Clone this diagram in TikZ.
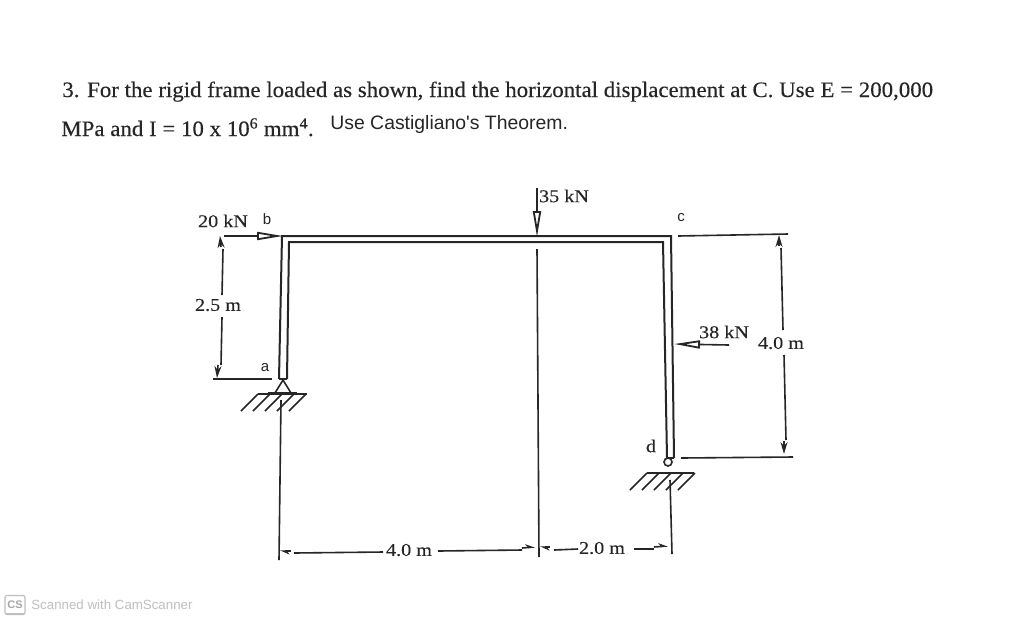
\documentclass[tikz,border=0pt]{standalone}
\usepackage{fontspec}
\setmainfont{Liberation Serif}
\newfontfamily\headfont[FakeStretch=1.04,FakeBold=0.25]{Liberation Serif}
\newfontfamily\dimfont[FakeStretch=1.12,FakeBold=0.2]{Liberation Serif}
\newfontfamily\plainfont{Liberation Sans}
\usetikzlibrary{arrows.meta}

\tikzset{every picture/.style={line width=0.75pt}}
\tikzset{
	frameline/.style={line width=2pt,black!85},
	thinline/.style={line width=1.6pt,black!85},
	dimtext/.style={inner sep=0pt,font=\dimfont\fontsize{18}{20}\selectfont,black!85},
	marktext/.style={inner sep=0pt,font=\plainfont\fontsize{15}{17}\selectfont,black!85},
	questiontext/.style={inner sep=0pt,anchor=base west,black!85},
	loadtip/.style={-{Triangle[open,length=26pt,width=8pt,line width=1.8pt]}},
	dimtip/.style={-{Stealth[length=12pt,width=7pt]}},
	smalltip/.style={-{Stealth[harpoon,length=8pt,width=7pt]}}
}

\begin{document}
\begin{tikzpicture}[x=1pt,y=1pt,yscale=-1,xscale=1]
	\useasboundingbox (0,0) rectangle (1024,622);
	\fill[white] (0,0) rectangle (1024,622);

	% Question text
	\node[questiontext,font=\headfont\fontsize{22}{24}\selectfont] (line1) at (62,97) {3. For the rigid frame loaded as shown, find the horizontal displacement at C. Use E = 200,000};
	\node[questiontext,font=\headfont\fontsize{22}{24}\selectfont] (line2) at (61,136) {MPa and I = 10 x 10\textsuperscript{6} mm\textsuperscript{4}.};
	\node[questiontext,font=\plainfont\fontsize{19.4}{22}\selectfont] (line3) at (330,129) {Use Castigliano's Theorem.};

	% Frame
	\draw[frameline] (279,379) -- (282,236) -- (671,236) -- (674,458);
	\draw[frameline] (287,379) -- (289,242) -- (663,242) -- (667,458);
	\draw[frameline] (279,379) -- (287,379);
	\draw[frameline] (667,458) -- (674,458);

	% Support a
	\draw[thinline] (275,393) -- (283,380) -- (291,393);
	\draw[line width=2.5pt,black!85] (268,393) -- (297,393);
	\draw[thinline] (258,394) -- (307,394);
	\foreach \i in {0,1,2,3,4}
		\draw[thinline] (241+12*\i,411) -- (258+12*\i,394);

	% Support d
	\node[draw=black!85,circle,line width=1.6pt,minimum size=8pt,inner sep=0pt] (hinged) at (668,462) {};
	\draw[thinline] (647,473) -- (694,473);
	\foreach \i in {0,1,2,3,4}
		\draw[thinline] (630+12*\i,490) -- (647+12*\i,473);

	% Witness lines
	\draw[thinline] (281,400) -- (279,560);
	\draw[thinline] (537,249) -- (539,557);
	\draw[thinline] (670,480) -- (672,554);
	\draw[thinline] (678,236) -- (788,234);
	\draw[thinline] (681,458) -- (793,457);
	\draw[thinline] (213,379) -- (272,379);

	% Loads
	\draw[thinline,loadtip] (224,236) -- (283,236);
	\draw[thinline,loadtip] (537,188) -- (537,237);
	\draw[thinline,loadtip] (729,345) -- (674,344);

	% Text Node
	\node[dimtext] (load20) at (223,221) {20 kN};
	\node[dimtext] (load35) at (564,196) {35 kN};
	\node[dimtext] (load38) at (724,332) {38 kN};
	\node[marktext] (markb) at (267,219) {b};
	\node[marktext] (markc) at (681,218) {c};
	\node[marktext] (marka) at (265,368) {a};
	\node[dimtext] (markd) at (651,446) {d};
	\node[dimtext] (dim25) at (218,305) {2.5 m};
	\node[dimtext] (dim40r) at (781,343) {4.0 m};
	\node[dimtext] (dim40b) at (409,550) {4.0 m};
	\node[dimtext] (dim20b) at (602,548) {2.0 m};

	% Dimensions
	\coordinate (d25top) at (223,249);
	\coordinate (d25bot) at (217,378);
	\coordinate (d40top) at (781,248);
	\coordinate (d40bot) at (784,454);
	\draw[thinline] (d25top) -- (222,295);
	\draw[thinline,dimtip] (221,247) -- (220,236);
	\draw[thinline] (222,317) -- (221,365);
	\draw[thinline,dimtip] (218,365) -- (d25bot);
	\draw[thinline] (d40top) -- (783,330);
	\draw[thinline,dimtip] (779,246) -- (779,235);
	\draw[thinline] (784,355) -- (786,440);
	\draw[thinline,dimtip] (784,441) -- (d40bot);

	\draw[thinline] (294,553) -- (383,552);
	\draw[thinline] (438,551) -- (522,550);
	\draw[thinline,smalltip] (291,551) -- (280,551);
	\draw[thinline,smalltip] (522,548) -- (535,547);
	\draw[thinline] (554,550) -- (578,549);
	\draw[thinline] (634,549) -- (654,549);
	\draw[thinline,smalltip] (550,547) -- (540,547);
	\draw[thinline,smalltip] (654,547) -- (668,546);

	% Scanner mark
	\node[draw=black!25,fill=white,rounded corners=2pt,line width=1.2pt,inner sep=1pt,minimum width=20pt,minimum height=19pt,font=\plainfont\bfseries\fontsize{11}{12}\selectfont,text=black!35] (logo) at (15,605) {CS};
	\draw[line width=2.5pt,black!25] (6,614) -- (24,614);
	\node[inner sep=0pt,anchor=west,font=\plainfont\fontsize{13.3}{15}\selectfont,text=black!25] (scanned) at (31,605) {Scanned with CamScanner};

\end{tikzpicture}
\end{document}
